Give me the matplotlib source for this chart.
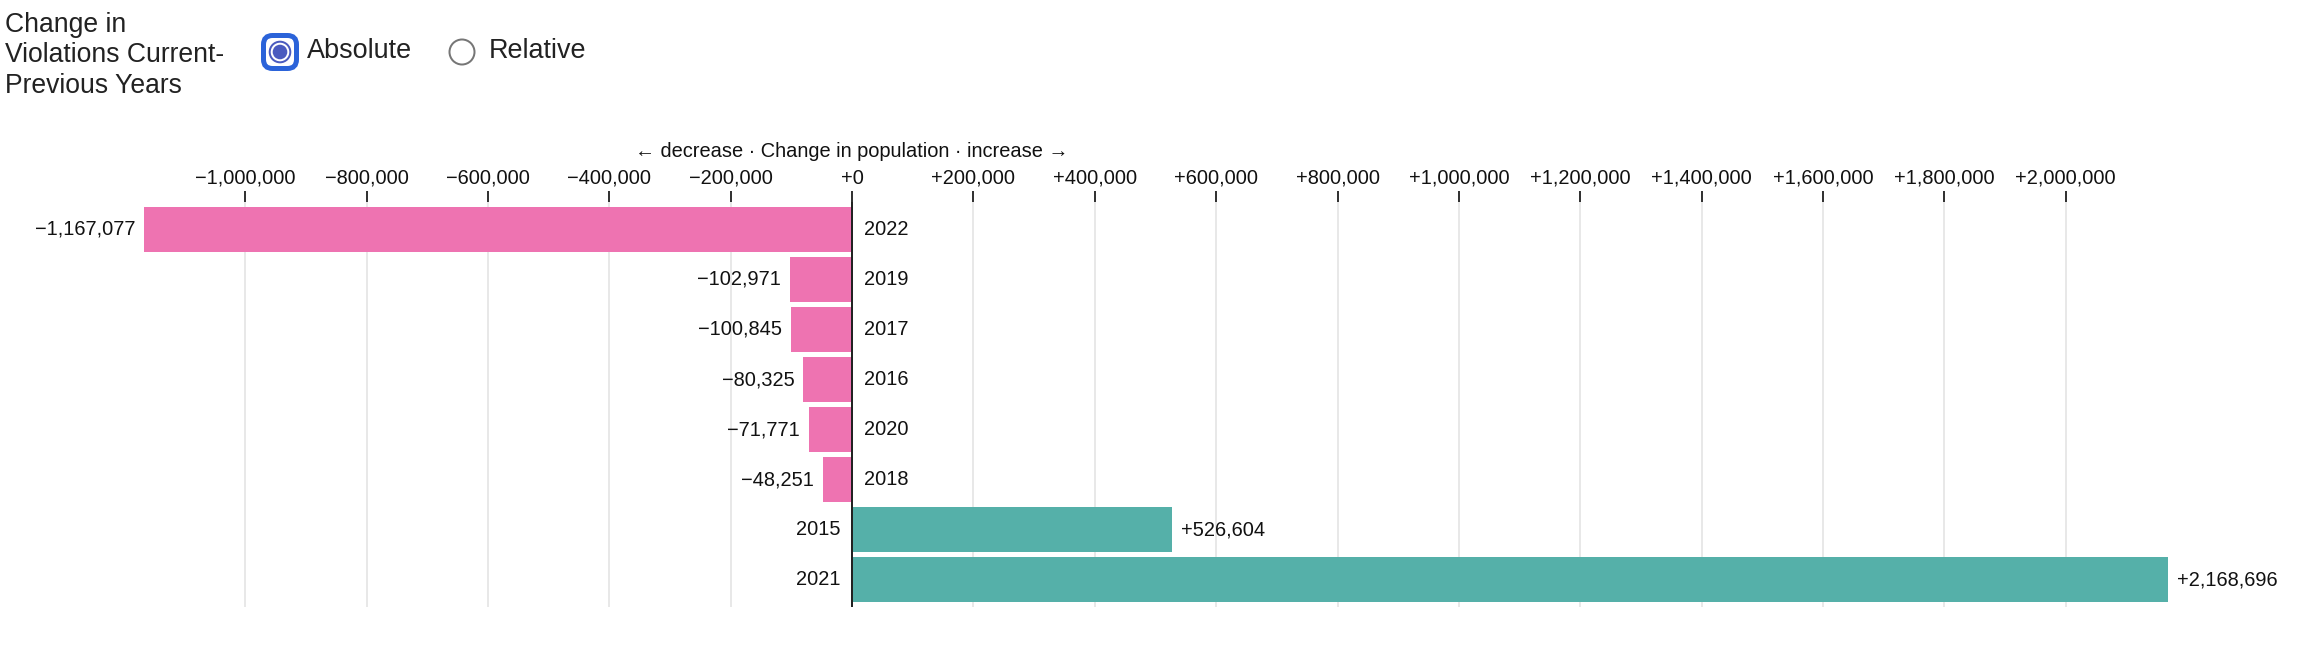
import numpy as np
import matplotlib
matplotlib.use("Agg")
import matplotlib.pyplot as plt
from matplotlib.patches import Circle, FancyBboxPatch
from matplotlib.ticker import FixedLocator, FuncFormatter

plt.rcParams['font.family'] = ['Liberation Sans', 'DejaVu Sans']

# --- Data (sorted as in the chart, top to bottom) ---
years = ["2022", "2019", "2017", "2016", "2020", "2018", "2015", "2021"]
changes = [-1167077, -102971, -100845, -80325, -71771, -48251, 526604, 2168696]
tick_values = list(range(-1000000, 2000001, 200000))

header_lines = ["Change in", "Violations Current-", "Previous Years"]
axis_title = "\u2190 decrease \u00b7 Change in population \u00b7 increase \u2192"

PINK = "#ee73b1"
TEAL = "#55b0a9"

W, H = 2314, 656
DPI = 100
PX = 72 / DPI  # points per pixel

fig = plt.figure(figsize=(W / DPI, H / DPI), dpi=DPI)

# chart area in pixels
left, right, top, bottom = 144, 2168, 202, 607
ax = fig.add_axes([left / W, 1 - bottom / H, (right - left) / W, (bottom - top) / H])

vals = np.array(changes)
ypos = np.arange(len(years))
colors = [PINK if v < 0 else TEAL for v in vals]

ax.barh(ypos, vals, height=0.9, color=colors, zorder=2)
ax.set_xlim(vals.min(), vals.max())
ax.set_ylim(len(years) - 1 + 0.55, -0.55)

# grid + ticks on top
ax.xaxis.set_major_locator(FixedLocator(tick_values))
ax.xaxis.set_major_formatter(FuncFormatter(
    lambda v, p: ("+" if v >= 0 else "\u2212") + f"{abs(int(round(v))):,}"))
ax.xaxis.tick_top()
ax.tick_params(axis="x", direction="out", length=11 * PX, width=2 * PX,
               color="#333333", pad=3 * PX, labelsize=20 * PX, labelcolor="#111111")
ax.set_yticks([])
for t in tick_values:
    if t != 0:
        ax.axvline(t, color="#e8e8e8", lw=2 * PX, zorder=1)
ax.axvline(0, color="#222222", lw=2 * PX, zorder=3)
for s in ax.spines.values():
    s.set_visible(False)

ax.text(0, 1 + 50 / (bottom - top), axis_title, transform=ax.get_xaxis_transform(),
        ha="center", va="center", fontsize=20 * PX, color="#111111")

# labels
for y, v, yr in zip(ypos, vals, years):
    sign = 1 if v >= 0 else -1
    lab = ("+" if v >= 0 else "\u2212") + f"{abs(v):,}"
    ax.annotate(lab, (v, y), xytext=(sign * 9 * PX, 0), textcoords="offset points",
                ha="left" if v >= 0 else "right", va="center",
                fontsize=20 * PX, color="#111111")
    ax.annotate(yr, (0, y), xytext=(-sign * 12 * PX, 0), textcoords="offset points",
                ha="right" if v >= 0 else "left", va="center",
                fontsize=20 * PX, color="#111111")

# --- header / radio controls (pixel overlay) ---
ov = fig.add_axes([0, 0, 1, 1], zorder=5)
ov.set_xlim(0, W)
ov.set_ylim(H, 0)
ov.axis("off")
ov.patch.set_alpha(0)

for i, line in enumerate(header_lines):
    ov.text(5, 32 + 30.5 * i, line, ha="left", va="baseline",
            fontsize=26.5 * PX, color="#222222")

cx, cy = 280, 52
ov.add_patch(FancyBboxPatch((cx - 16.5, cy - 16.5), 33, 33,
                            boxstyle="round,pad=0,rounding_size=9",
                            facecolor="white", edgecolor="#2b63d9", lw=5 * PX))
ov.add_patch(Circle((cx, cy), 10.3, facecolor="white", edgecolor="#4a5bbf", lw=2 * PX))
ov.add_patch(Circle((cx, cy), 7.3, facecolor="#4a5bbf", edgecolor="none"))
ov.text(307, 58, "Absolute", ha="left", va="baseline", fontsize=27 * PX, color="#222222")

ov.add_patch(Circle((462, 52), 12.5, facecolor="white", edgecolor="#767676", lw=2 * PX))
ov.text(489, 58, "Relative", ha="left", va="baseline", fontsize=27 * PX, color="#222222")

fig.savefig("out.png", dpi=DPI)
